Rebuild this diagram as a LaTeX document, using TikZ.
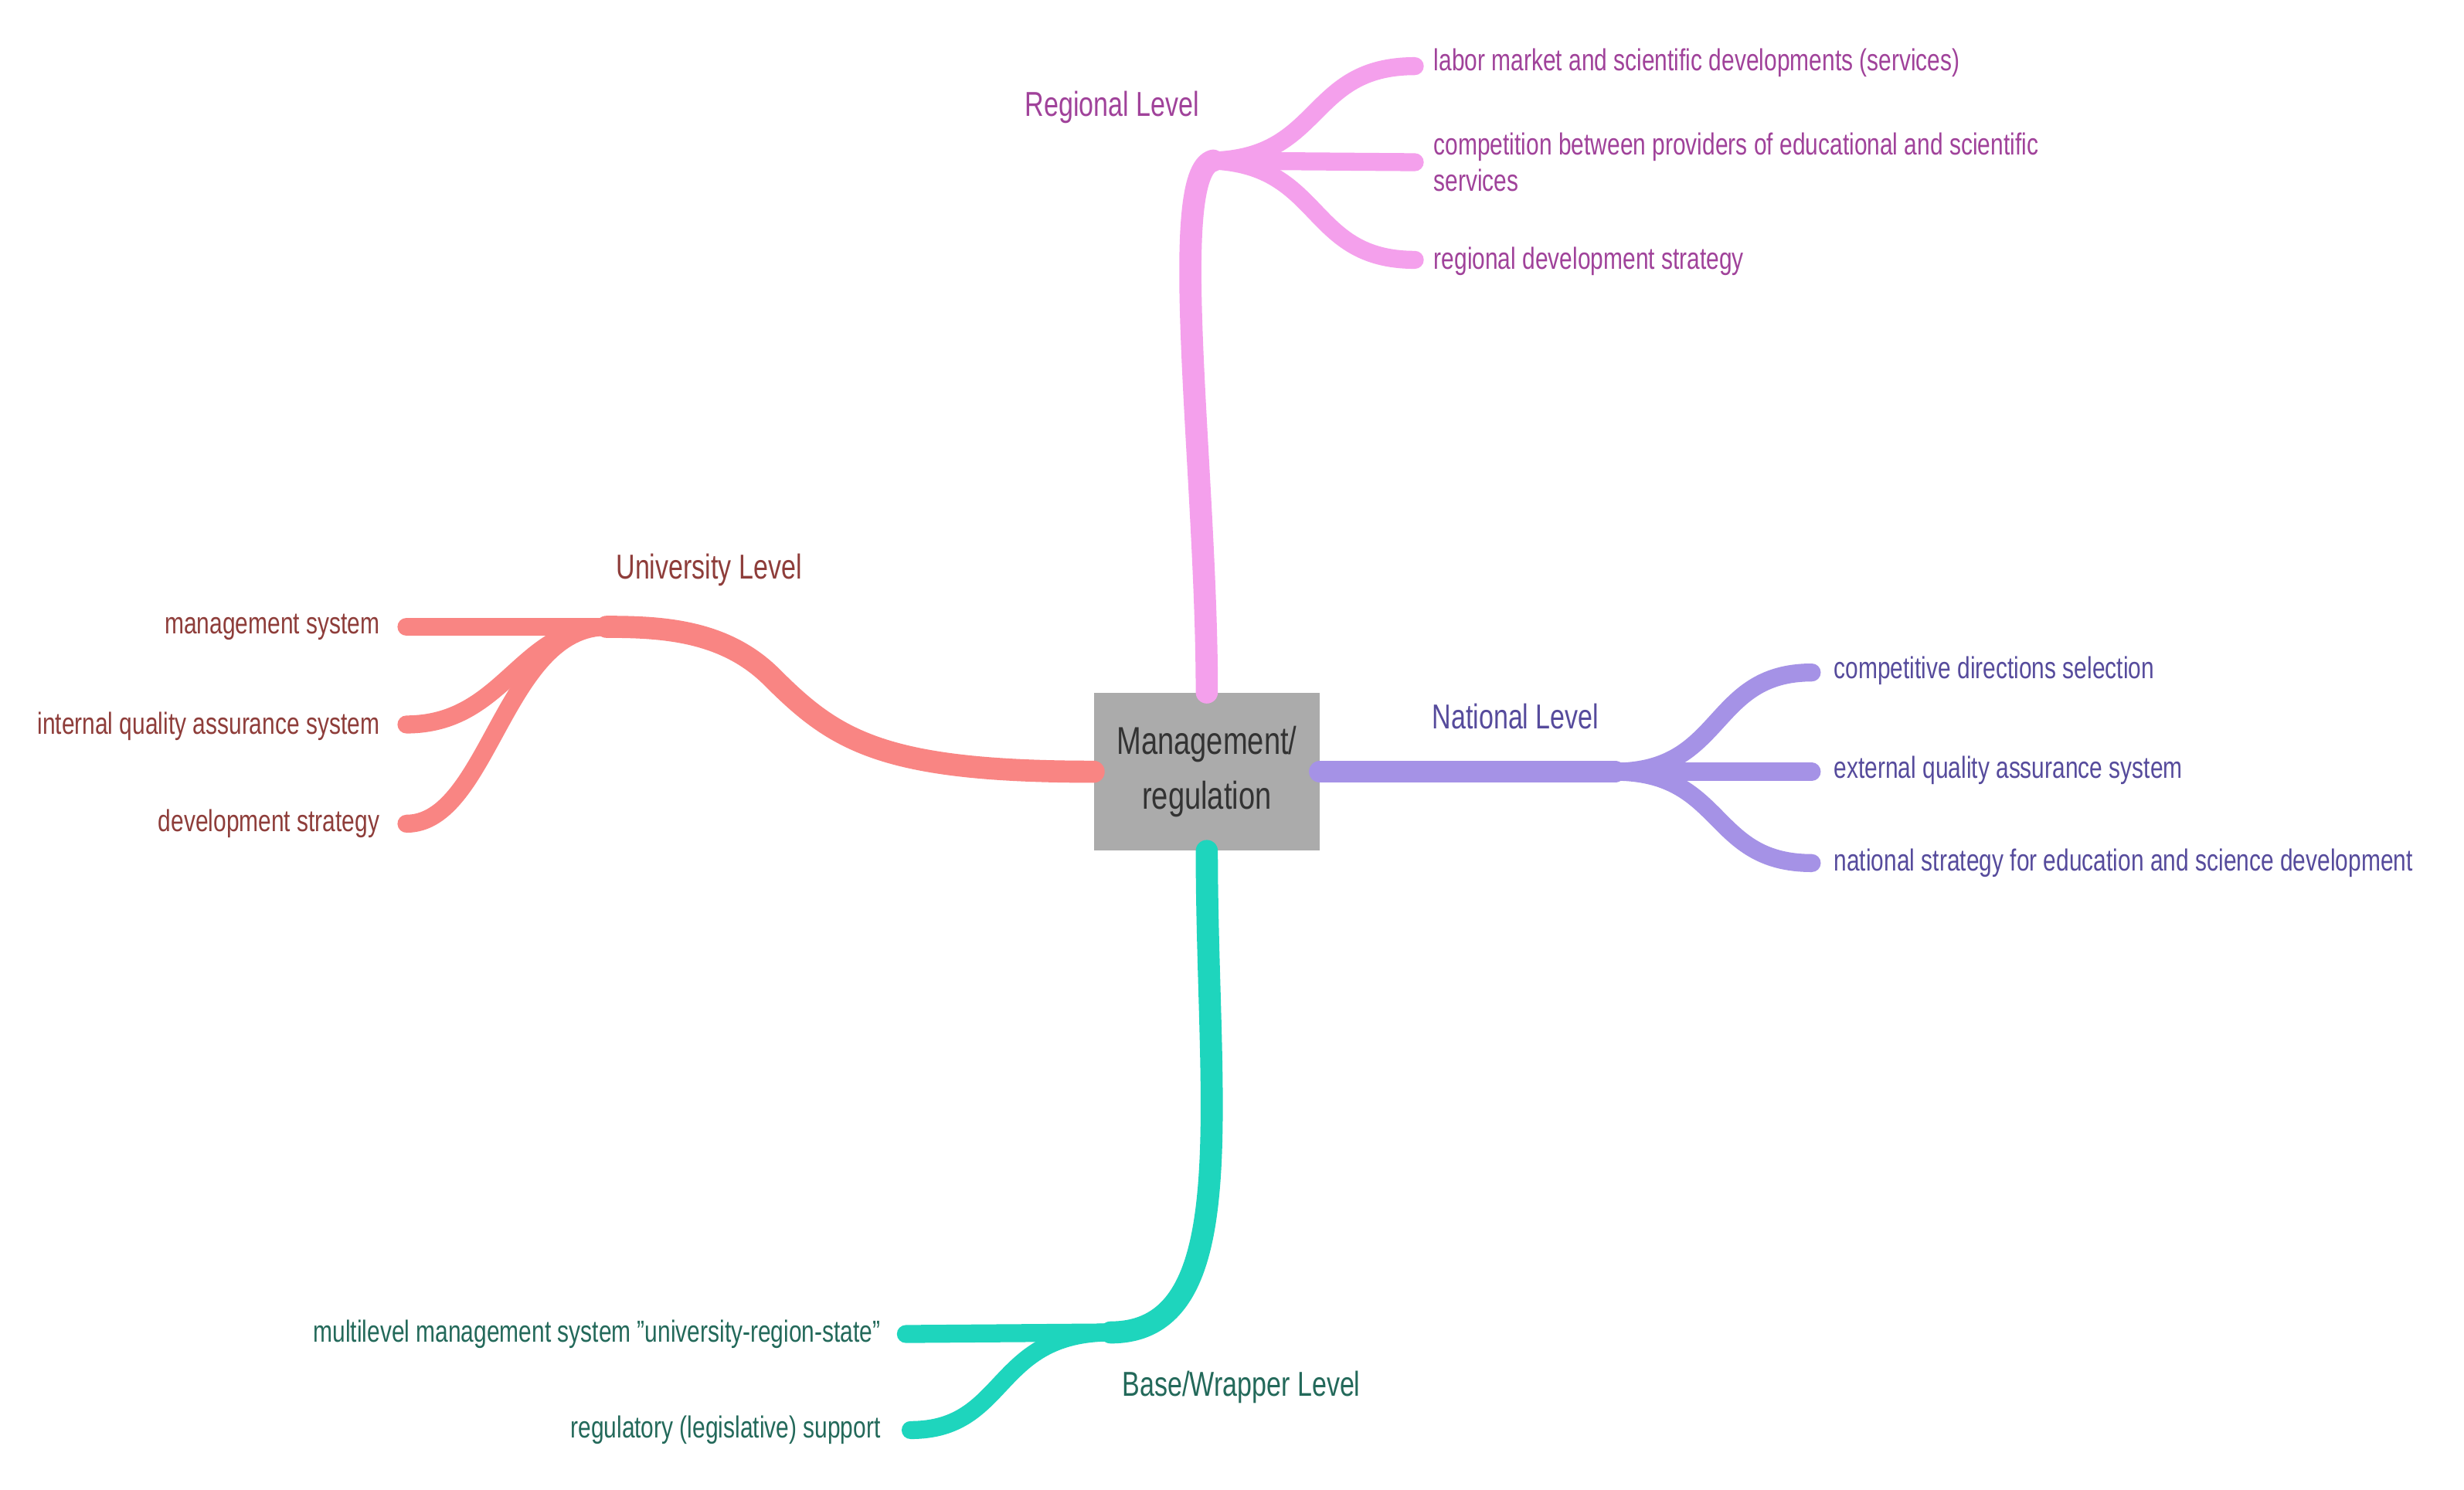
\documentclass[tikz,border=0pt]{standalone}
\usepackage{fontspec}
\setmainfont[FakeStretch=0.76]{Liberation Sans}
\begin{document}
\begin{tikzpicture}[x=0.02cm,y=-0.02cm,
 br/.style={line width=8pt,line cap=round},
 tw/.style={line width=6.5pt,line cap=round},
 lf/.style={font=\fontsize{11}{13}\selectfont,inner sep=1pt},
 lv/.style={font=\fontsize{12.5}{14}\selectfont,inner sep=1pt}]
\useasboundingbox[fill=white] (0,0) rectangle (1564,945.6);
\definecolor{pk}{HTML}{F4A0EC}\definecolor{pkt}{HTML}{A0429A}
\definecolor{pu}{HTML}{A592E6}\definecolor{put}{HTML}{564B9C}
\definecolor{sa}{HTML}{F98583}\definecolor{sat}{HTML}{8E3D3A}
\definecolor{te}{HTML}{1ED5BD}\definecolor{tet}{HTML}{23695A}
% central node
\node[fill=black!33,minimum width=2.86cm,minimum height=2cm,align=center,font=\fontsize{14}{20}\selectfont,text=black!80] (c) at (766,490) {Management/\\regulation};
% coordinates
\coordinate (rh) at (770,102); \coordinate (r1) at (898,42); \coordinate (r2) at (898,103); \coordinate (r3) at (898,165);
\coordinate (nh) at (1025,490); \coordinate (n1) at (1150,427); \coordinate (n2) at (1150,490); \coordinate (n3) at (1150,548);
\coordinate (uh) at (385,398); \coordinate (u1) at (258,398); \coordinate (u2) at (258,460); \coordinate (u3) at (258,523);
\coordinate (bh) at (705,846); \coordinate (b1) at (575,847); \coordinate (b2) at (578,908);
% regional
\draw[br,pk] (c.north) .. controls (766,300) and (740,110) .. (rh);
\draw[tw,pk] (rh) .. controls (840,100) and (830,42) .. (r1);
\draw[tw,pk] (rh) -- (r2);
\draw[tw,pk] (rh) .. controls (840,105) and (830,165) .. (r3);
% national
\draw[br,pu] (c.east) -- (nh);
\draw[tw,pu] (nh) .. controls (1095,490) and (1085,427) .. (n1);
\draw[tw,pu] (nh) -- (n2);
\draw[tw,pu] (nh) .. controls (1095,490) and (1085,548) .. (n3);
% university
\draw[br,sa] (c.west) .. controls (560,490) and (530,470) .. (490,430) .. controls (460,400) and (420,398) .. (uh);
\draw[tw,sa] (uh) -- (u1);
\draw[tw,sa] (uh) .. controls (330,398) and (320,460) .. (u2);
\draw[tw,sa] (uh) .. controls (320,398) and (310,523) .. (u3);
% base
\draw[br,te] (c.south) .. controls (766,700) and (790,846) .. (bh);
\draw[tw,te] (bh) -- (b1);
\draw[tw,te] (bh) .. controls (630,846) and (640,908) .. (b2);
% level labels
\node[lv,text=pkt] (rl) at (706,68) {Regional Level};
\node[lv,text=put] (nl) at (962,455) {National Level};
\node[lv,text=sat] (ul) at (450,362) {University Level};
\node[lv,text=tet] (bl) at (788,881) {Base/Wrapper Level};
% leaves
\node[lf,text=pkt,anchor=west] (rt1) at (908,40) {labor market and scientific developments (services)};
\node[lf,text=pkt,anchor=west,align=left] (rt2) at (908,103) {competition between providers of educational and scientific\\services};
\node[lf,text=pkt,anchor=west] (rt3) at (908,166) {regional development strategy};
\node[lf,text=put,anchor=west] (nt1) at (1162,426) {competitive directions selection};
\node[lf,text=put,anchor=west] (nt2) at (1162,489) {external quality assurance system};
\node[lf,text=put,anchor=west] (nt3) at (1162,548) {national strategy for education and science development};
\node[lf,text=sat,anchor=east] (ut1) at (243,398) {management system};
\node[lf,text=sat,anchor=east] (ut2) at (243,461) {internal quality assurance system};
\node[lf,text=sat,anchor=east] (ut3) at (243,523) {development strategy};
\node[lf,text=tet,anchor=east] (bt1) at (561,847) {multilevel management system \symbol{34}university-region-state\symbol{34}};
\node[lf,text=tet,anchor=east] (bt2) at (561,908) {regulatory (legislative) support};
\end{tikzpicture}
\end{document}
